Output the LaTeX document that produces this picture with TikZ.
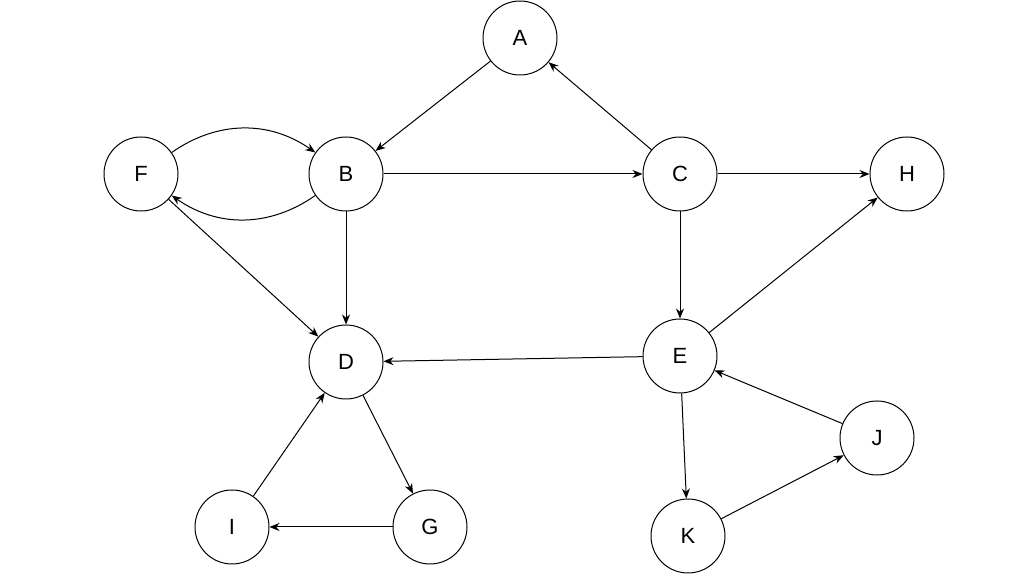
\documentclass[tikz,border=0pt]{standalone}
\usepackage{fontspec}
\setmainfont{Liberation Sans}
\usetikzlibrary{arrows.meta}
\begin{document}
\begin{tikzpicture}[x=0.5pt,y=-0.5pt,
  vert/.style={circle,draw,line width=0.5pt,minimum size=37pt,inner sep=0pt,font=\fontsize{11}{13}\selectfont},
  edge/.style={-{Stealth[length=5pt,width=4pt]},line width=0.5pt}]
\useasboundingbox (0,0) rectangle (1024,576);
\node[vert] (A) at (520,38) {A};
\node[vert] (B) at (346,174) {B};
\node[vert] (C) at (680,174) {C};
\node[vert] (F) at (141,174) {F};
\node[vert] (H) at (907,174) {H};
\node[vert] (D) at (346,362) {D};
\node[vert] (E) at (680,356) {E};
\node[vert] (J) at (877,438) {J};
\node[vert] (I) at (232,527) {I};
\node[vert] (G) at (430,527) {G};
\node[vert] (K) at (688,536) {K};
\draw[edge] (A) -- (B);
\draw[edge] (C) -- (A);
\draw[edge] (F) to[bend left=35] (B);
\draw[edge] (B) to[bend left=35] (F);
\draw[edge] (B) -- (C);
\draw[edge] (C) -- (H);
\draw[edge] (B) -- (D);
\draw[edge] (F) -- (D);
\draw[edge] (C) -- (E);
\draw[edge] (E) -- (D);
\draw[edge] (E) -- (H);
\draw[edge] (J) -- (E);
\draw[edge] (E) -- (K);
\draw[edge] (K) -- (J);
\draw[edge] (D) -- (G);
\draw[edge] (G) -- (I);
\draw[edge] (I) -- (D);
\end{tikzpicture}
\end{document}
